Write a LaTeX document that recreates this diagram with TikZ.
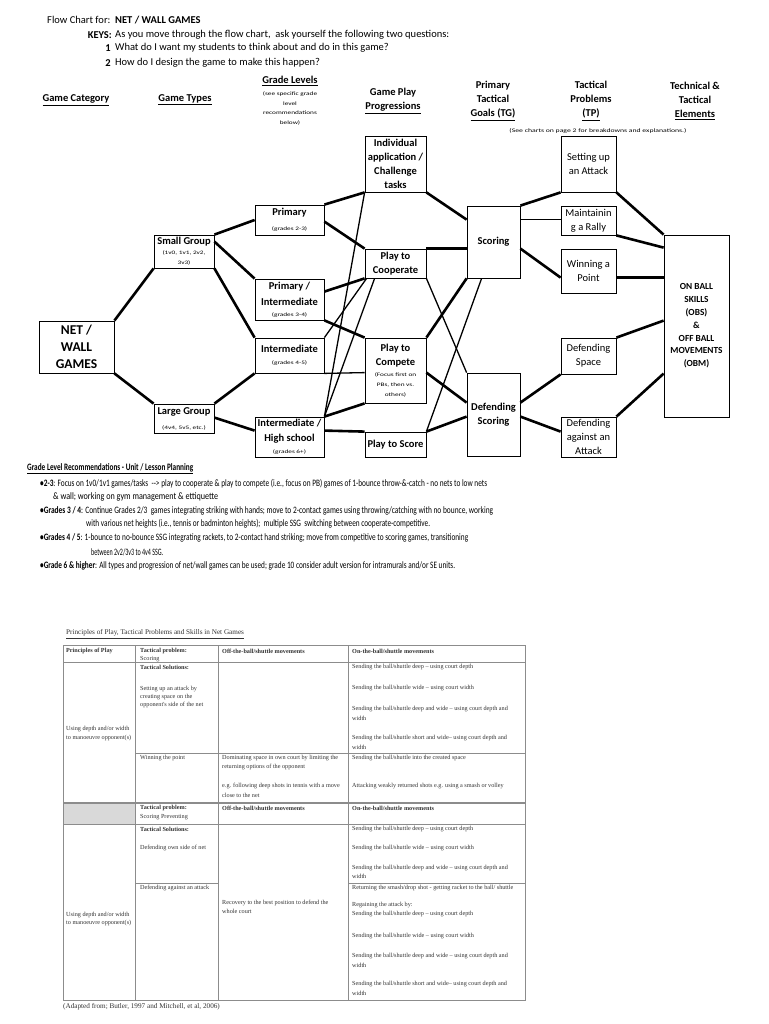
\documentclass[tikz,border=0pt]{standalone}
\usepackage{fontspec}
\setmainfont{Carlito}
\newfontfamily\tnr{Liberation Serif}
\usepackage{graphicx}
\usetikzlibrary{calc}
\newcommand{\smx}[1]{\scalebox{1.4}[1]{\fontsize{5.2}{6}\selectfont\mdseries #1}}
\newcommand{\fitw}[2]{\resizebox{#1}{\height}{#2}}
\begin{document}
\begin{tikzpicture}[x=1pt,y=-1pt,
  box/.style={draw,line width=0.8pt,inner sep=0pt,align=center,font=\fontsize{10.5}{14}\selectfont\bfseries},
  rbox/.style={box,font=\fontsize{10.5}{14}\selectfont},
  heavy/.style={line width=2.6pt},
  light/.style={line width=1.3pt},
  mid/.style={line width=1.8pt},
  hd/.style={anchor=west,inner sep=0pt,font=\fontsize{10.5}{13}\selectfont},
  hdb/.style={hd,font=\fontsize{10.5}{13}\selectfont\bfseries},
  ch/.style={inner sep=0pt,align=center,font=\fontsize{10.5}{14}\selectfont\bfseries},
  rec/.style={anchor=west,inner sep=0pt,font=\fontsize{9.8}{11}\selectfont},
  tt/.style={anchor=west,inner sep=0pt,text=black!80,font=\tnr\fontsize{6.2}{8}\selectfont},
  ttb/.style={tt,font=\tnr\bfseries\fontsize{6.2}{8}\selectfont},
  grid/.style={draw=black!45,line width=0.6pt}
]
\useasboundingbox[fill=white] (0,0) rectangle (768,1024);

% ---------- header ----------
\node[hd] (h1) at (47,20) {Flow Chart for:};
\node[hdb] (h1b) at (115,20) {NET / WALL GAMES};
\node[hdb,anchor=east] (h2) at (112,35) {KEYS:};
\node[hd] (h2b) at (115,35) {As you move through the flow chart,~ ask yourself the following two questions:};
\node[hdb,anchor=east] (h3) at (111,48) {1};
\node[hd] (h3b) at (115,48) {What do I want my students to think about and do in this game?};
\node[hdb,anchor=east] (h4) at (111,63) {2};
\node[hd] (h4b) at (115,63) {How do I design the game to make this happen?};

% ---------- column headers ----------
\node[ch] (c1) at (76,100) {\underline{Game Category}};
\node[ch] (c2) at (185,100) {\underline{Game Types}};
\node[ch] (c3) at (290,81) {\underline{Grade Levels}};
\node[ch,font=\fontsize{5}{9.5}\selectfont] (c3s) at (290,108.5) {\smx{(see specific grade}\\\smx{level}\\\smx{recommendations}\\\smx{below)}};
\node[ch] (c4) at (393,101) {Game Play\\\underline{Progressions}};
\node[ch] (c5) at (493,101) {Primary\\Tactical\\\underline{Goals (TG)}};
\node[ch] (c6) at (591,101) {Tactical\\Problems\\\underline{(TP)}};
\node[ch] (c7) at (695,101) {Technical \&\\Tactical\\\underline{Elements}};
\node[ch,font=\fontsize{5.4}{6}\selectfont\mdseries] (c8) at (598,131) {\fitw{177pt}{(See charts on page 2 for breakdowns and explanations.)}};

% ---------- boxes ----------
\node[box,font=\fontsize{13.5}{17}\selectfont\bfseries,minimum width=75,minimum height=52] (net) at (76.5,347) {NET /\\WALL\\GAMES};
\node[box,minimum width=60,minimum height=33] (smallg) at (184,251.5) {Small Group\\[-4pt]\smx{(1v0, 1v1, 2v2,}\\[-4pt]\smx{3v3)}};
\node[box,minimum width=60,minimum height=29] (largeg) at (184,418.5) {Large Group\\[1pt]\smx{(4v4, 5v5, etc.)}};
\node[box,minimum width=69,minimum height=30] (prim) at (289.5,220) {Primary\\[1pt]\smx{(grades 2-3)}};
\node[box,minimum width=69,minimum height=41] (primint) at (289.5,299.5) {Primary /\\[2pt]Intermediate\\[-3pt]\smx{(grades 3-4)}};
\node[box,minimum width=69,minimum height=35] (inter) at (289.5,355.5) {Intermediate\\[-2pt]\smx{(grades 4-5)}};
\node[box,minimum width=69,minimum height=40] (inths) at (289.5,437) {Intermediate /\\[1pt]High school\\[-2pt]\smx{(grades 6+)}};
\node[box,minimum width=61,minimum height=56] (indiv) at (395.5,164) {Individual\\application /\\Challenge\\tasks};
\node[box,minimum width=61,minimum height=29] (coop) at (395.5,263.5) {Play to\\Cooperate};
\node[box,minimum width=61,minimum height=65] (compete) at (395.5,370.5) {Play to\\Compete\\[-3pt]\smx{(Focus first on}\\[-4pt]\smx{PBs, then vs.}\\[-4pt]\smx{others)}};
\node[box,minimum width=61,minimum height=25] (score) at (395.5,444.5) {Play to Score};
\node[box,minimum width=53,minimum height=72] (scoring) at (493.5,242) {Scoring};
\node[box,minimum width=53,minimum height=83] (defsc) at (493.5,414.5) {Defending\\Scoring};
\node[rbox,minimum width=55,minimum height=56] (setup) at (588.5,164) {Setting up\\an Attack};
\node[rbox,minimum width=55,minimum height=29] (maint) at (588.5,220.5) {Maintainin\\g a Rally};
\node[rbox,minimum width=55,minimum height=44] (win) at (588.5,271) {Winning a\\Point};
\node[rbox,minimum width=55,minimum height=36] (defsp) at (588.5,356) {Defending\\Space};
\node[rbox,minimum width=55,minimum height=40] (defat) at (588.5,437) {Defending\\against an\\Attack};
\node[box,font=\fontsize{9.3}{12.8}\selectfont\bfseries,minimum width=65,minimum height=182] (onball) at (696.5,326) {ON BALL\\SKILLS\\(OBS)\\\&\\OFF BALL\\MOVEMENTS\\(OBM)};

% ---------- connectors ----------
\draw[heavy] (net.north east) -- (smallg.south west);
\draw[heavy] (net.south east) -- (largeg.north west);
\draw[heavy] (smallg.north east) -- (prim.west);
\draw[heavy] ([yshift=-7pt]smallg.north east) -- (primint.north west);
\draw[heavy] (smallg.south east) -- (inter.north west);
\draw[heavy] (largeg.north east) -- (inter.south west);
\draw[heavy] ([yshift=-14pt]largeg.north east) -- ([yshift=-14pt]inths.north west);
\draw[heavy] (prim.north east) -- (indiv.south west);
\draw[heavy] ([yshift=-17pt]prim.north east) -- (coop.north west);
\draw[heavy] ([yshift=-13pt]primint.north east) -- (coop.south west);
\draw[heavy] (primint.south east) -- (compete.north west);
\draw[light] (inter.north east) -- ([xshift=2pt]coop.south west);
\draw[light] (inter.south east) -- ([yshift=-35pt]compete.north west);
\draw[light] (inths.north east) -- (indiv.south west);
\draw[light] (inths.north east) -- ([xshift=10pt]coop.south west);
\draw[heavy] (inths.north east) -- (compete.south west);
\draw[heavy] ([yshift=-14pt]inths.north east) -- (score.north west);
\draw[heavy] (indiv.south east) -- ([yshift=-14pt]scoring.north west);
\draw[line width=3.4pt] (coop.north east) -- ([yshift=-43pt]scoring.north west);
\draw[light] (coop.south east) -- (defsc.north west);
\draw[heavy] (compete.north east) -- (scoring.south west);
\draw[heavy] ([yshift=-35pt]compete.north east) -- ([yshift=-30pt]defsc.north west);
\draw[light] (score.north east) -- ([xshift=15pt]scoring.south west);
\draw[heavy] (score.north east) -- ([yshift=-44pt]defsc.north west);
\draw[heavy] (scoring.north east) -- (setup.south west);
\draw[mid] ([yshift=-14pt]scoring.north east) -- ([yshift=-14pt]maint.north west);
\draw[heavy] ([yshift=-43pt]scoring.north east) -- ([yshift=-29pt]win.north west);
\draw[heavy] ([yshift=-30pt]defsc.north east) -- (defsp.south west);
\draw[heavy] ([yshift=-44pt]defsc.north east) -- ([yshift=-15pt]defat.north west);
\draw[heavy] (setup.south east) -- (onball.north west);
\draw[heavy] (maint.south east) -- ([yshift=-13pt]onball.north west);
\draw[heavy] ([yshift=-29pt]win.north east) -- ([yshift=-43pt]onball.north west);
\draw[heavy] (defsp.north east) -- ([yshift=-86pt]onball.north west);
\draw[heavy] (defat.north east) -- ([yshift=-139pt]onball.north west);

% ---------- recommendations ----------
\node[rec,font=\fontsize{9.8}{11}\selectfont\bfseries] (r0) at (27,469) {\fitw{166pt}{\underline{Grade Level Recommendations - Unit / Lesson Planning}}};
\node[rec] (r1) at (40,484) {\fitw{447pt}{\textbf{•2-3}: Focus on 1v0/1v1 games/tasks~ -{}-{}> play to cooperate \& play to compete (i.e., focus on PB) games of 1-bounce throw-\&-catch - no nets to low nets}};
\node[rec] (r1b) at (53,497) {\fitw{165pt}{\& wall; working on gym management \& ettiquette}};
\node[rec] (r2) at (40,511) {\fitw{453pt}{\textbf{•Grades 3 / 4}: Continue Grades 2/3~ games integrating striking with hands; move to 2-contact games using throwing/catching with no bounce, working}};
\node[rec] (r2b) at (86,524) {\fitw{344pt}{with various net heights (i.e., tennis or badminton heights);~ multiple SSG~ switching between cooperate-competitive.}};
\node[rec] (r3) at (40,538) {\fitw{428pt}{\textbf{•Grades 4 / 5}: 1-bounce to no-bounce SSG integrating rackets, to 2-contact hand striking; move from competitive to scoring games, transitioning}};
\node[rec] (r3b) at (91,552) {\fitw{72pt}{between 2v2/3v3 to 4v4 SSG.}};
\node[rec] (r4) at (40,566) {\fitw{415pt}{\textbf{•Grade 6 \& higher}: All types and progression of net/wall games can be used; grade 10 consider adult version for intramurals and/or SE units.}};

% ---------- table ----------
\node[tt,font=\tnr\fontsize{7.2}{8}\selectfont] (tt0) at (66,634) {\underline{Principles of Play, Tactical Problems and Skills in Net Games}};
\fill[black!15] (63,803) rectangle (135,824);
\draw[grid] (63,645) rectangle (525,1000);
\draw[grid] (135,645) -- (135,1000);
\draw[grid] (218,645) -- (218,1000);
\draw[grid] (348,645) -- (348,1000);
\draw[grid] (63,662) -- (525,662);
\draw[grid] (135,753) -- (525,753);
\draw[grid,line width=1.2pt] (63,803) -- (525,803);
\draw[grid] (63,824) -- (525,824);
\draw[grid] (135,883) -- (218,883);
\draw[grid] (348,883) -- (525,883);

\node[ttb] (tA1) at (66,651) {Principles of Play};
\node[ttb] (tA2) at (140,651) {Tactical problem:};
\node[tt]  (tA3) at (140,659) {Scoring};
\node[ttb] (tA4) at (222,651) {Off-the-ball/shuttle movements};
\node[ttb] (tA5) at (352,651) {On-the-ball/shuttle movements};

\node[ttb] (tB1) at (140,667) {Tactical Solutions:};
\node[tt] (tB2) at (140,689) {Setting up an attack by};
\node[tt] (tB3) at (140,697) {creating space on the};
\node[tt] (tB4) at (140,705) {opponent's side of the net};
\node[tt] (tB5) at (352,667) {Sending the ball/shuttle deep – using court depth};
\node[tt] (tB6) at (352,688) {Sending the ball/shuttle wide – using court width};
\node[tt] (tB7) at (352,709) {Sending the ball/shuttle deep and wide – using court depth and};
\node[tt] (tB8) at (352,718) {width};
\node[tt] (tB9) at (352,738) {Sending the ball/shuttle short and wide– using court depth and};
\node[tt] (tB10) at (352,747) {width};
\node[tt] (tB11) at (66,729) {Using depth and/or width};
\node[tt] (tB12) at (66,738) {to manoeuvre opponent(s)};

\node[tt] (tC1) at (140,758) {Winning the point};
\node[tt] (tC2) at (222,758) {Dominating space in own court by limiting the};
\node[tt] (tC3) at (222,767) {returning options of the opponent};
\node[tt] (tC4) at (222,786) {e.g. following deep shots in tennis with a move};
\node[tt] (tC5) at (222,795) {close to the net};
\node[tt] (tC6) at (352,758) {Sending the ball/shuttle into the created space};
\node[tt] (tC7) at (352,786) {Attacking weakly returned shots e.g. using a smash or volley};

\node[ttb] (tD1) at (140,808) {Tactical problem:};
\node[tt]  (tD2) at (140,817) {Scoring Preventing};
\node[ttb] (tD3) at (222,808) {Off-the-ball/shuttle movements};
\node[ttb] (tD4) at (352,808) {On-the-ball/shuttle movements};

\node[ttb] (tE1) at (140,829) {Tactical Solutions:};
\node[tt] (tE2) at (140,848) {Defending own side of net};
\node[tt] (tE3) at (352,829) {Sending the ball/shuttle deep – using court depth};
\node[tt] (tE4) at (352,848) {Sending the ball/shuttle wide – using court width};
\node[tt] (tE5) at (352,868) {Sending the ball/shuttle deep and wide – using court depth and};
\node[tt] (tE6) at (352,876) {width};

\node[tt] (tF1) at (140,888) {Defending against an attack};
\node[tt] (tF2) at (222,903) {Recovery to the best position to defend the};
\node[tt] (tF3) at (222,911) {whole court};
\node[tt] (tF4) at (66,915) {Using depth and/or width};
\node[tt] (tF5) at (66,923) {to manoeuvre opponent(s)};
\node[tt] (tF6) at (352,888) {Returning the smash/drop shot - getting racket to the ball/ shuttle};
\node[tt] (tF7) at (352,905) {Regaining the attack by:};
\node[tt] (tF8) at (352,914) {Sending the ball/shuttle deep – using court depth};
\node[tt] (tF9) at (352,936) {Sending the ball/shuttle wide – using court width};
\node[tt] (tF10) at (352,956) {Sending the ball/shuttle deep and wide – using court depth and};
\node[tt] (tF11) at (352,965) {width};
\node[tt] (tF12) at (352,984) {Sending the ball/shuttle short and wide– using court depth and};
\node[tt] (tF13) at (352,993) {width};

\node[tt,font=\tnr\fontsize{7.2}{8}\selectfont] (tG) at (63,1007) {(Adapted from; Butler, 1997 and Mitchell, et al, 2006)};
\end{tikzpicture}
\end{document}
